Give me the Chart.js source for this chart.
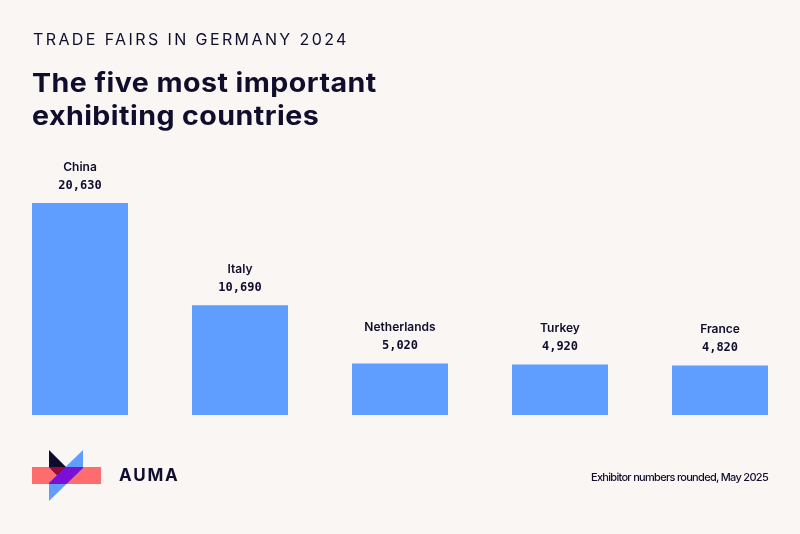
<!DOCTYPE html>
<html>
<head>
<meta charset="utf-8">
<script src="https://cdn.jsdelivr.net/npm/chart.js@4/dist/chart.umd.min.js"></script>
<style>
  html, body { margin: 0; padding: 0; background: #f9f6f3; }
  #wrap { position: relative; width: 800px; height: 534px; overflow: hidden; background: #f9f6f3; font-family: Inter, "Noto Sans", sans-serif; color: #100d2d; }
  #c { position: absolute; left: 0; top: 0; }
  .kicker { position: absolute; left: 33px; top: 29px; font-size: 16px; letter-spacing: 2.4px; font-weight: 400; white-space: nowrap; }
  .title { position: absolute; left: 32px; top: 66px; font-size: 26px; font-weight: 700; line-height: 33px; letter-spacing: 0.4px; white-space: nowrap; transform: scaleX(1.1); transform-origin: left top; }
  .brand { position: absolute; left: 119px; top: 465px; font-size: 17px; font-weight: 700; letter-spacing: 1.8px; }
  .note { position: absolute; right: 32px; top: 470px; font-size: 11px; letter-spacing: -0.7px; white-space: nowrap; font-weight: 500; }
  svg.logo { position: absolute; left: 0; top: 0; }
</style>
</head>
<body>
<div id="wrap">
  <canvas id="c" width="800" height="534"></canvas>
  <div class="kicker">TRADE FAIRS IN GERMANY 2024</div>
  <div class="title">The five most important<br>exhibiting countries</div>
  <svg class="logo" width="800" height="534" viewBox="0 0 800 534">
    <defs>
      <clipPath id="redClip"><rect x="32" y="467" width="69" height="17"/></clipPath>
    </defs>
    <rect x="32" y="467" width="69" height="17" fill="#fe6d6e"/>
    <polygon points="49,483 83,450 83,468 49,501" fill="#5f9eff"/>
    <polygon points="49,450 66,467 57,475 49,467" fill="#0f0b2c"/>
    <g clip-path="url(#redClip)">
      <polygon points="49,483 83,450 83,468 49,501" fill="#7a10d8"/>
      <polygon points="49,450 66,467 57,475 49,467" fill="#9c0a3c"/>
    </g>
  </svg>
  <div class="brand">AUMA</div>
  <div class="note">Exhibitor numbers rounded, May 2025</div>
</div>
<script>
const countries = ["China", "Italy", "Netherlands", "Turkey", "France"];
const exhibitors = [20630, 10690, 5020, 4920, 4820];
const valueLabels = ["20,630", "10,690", "5,020", "4,920", "4,820"];

const barLabels = {
  id: 'barLabels',
  afterDatasetsDraw(chart) {
    const ctx = chart.ctx;
    const meta = chart.getDatasetMeta(0);
    ctx.save();
    ctx.fillStyle = '#100d2d';
    ctx.textAlign = 'center';
    ctx.textBaseline = 'alphabetic';
    meta.data.forEach((bar, i) => {
      ctx.font = '600 12px Inter, "Noto Sans", sans-serif';
      ctx.fillText(countries[i], bar.x, bar.y - 32);
      ctx.font = 'bold 12px "DejaVu Sans Mono", monospace';
      ctx.fillText(valueLabels[i], bar.x, bar.y - 14);
    });
    ctx.restore();
  }
};

new Chart(document.getElementById('c'), {
  type: 'bar',
  data: {
    labels: countries,
    datasets: [{
      data: exhibitors,
      backgroundColor: '#5f9eff',
      borderWidth: 0,
      barPercentage: 0.6,
      categoryPercentage: 1.0
    }]
  },
  options: {
    responsive: false,
    animation: false,
    devicePixelRatio: 1,
    layout: { padding: { top: 150, bottom: 119, left: 0, right: 0 } },
    plugins: { legend: { display: false }, tooltip: { enabled: false } },
    scales: {
      x: { display: false },
      y: { display: false, min: 0, max: 25800 }
    }
  },
  plugins: [barLabels]
});
</script>
</body>
</html>
